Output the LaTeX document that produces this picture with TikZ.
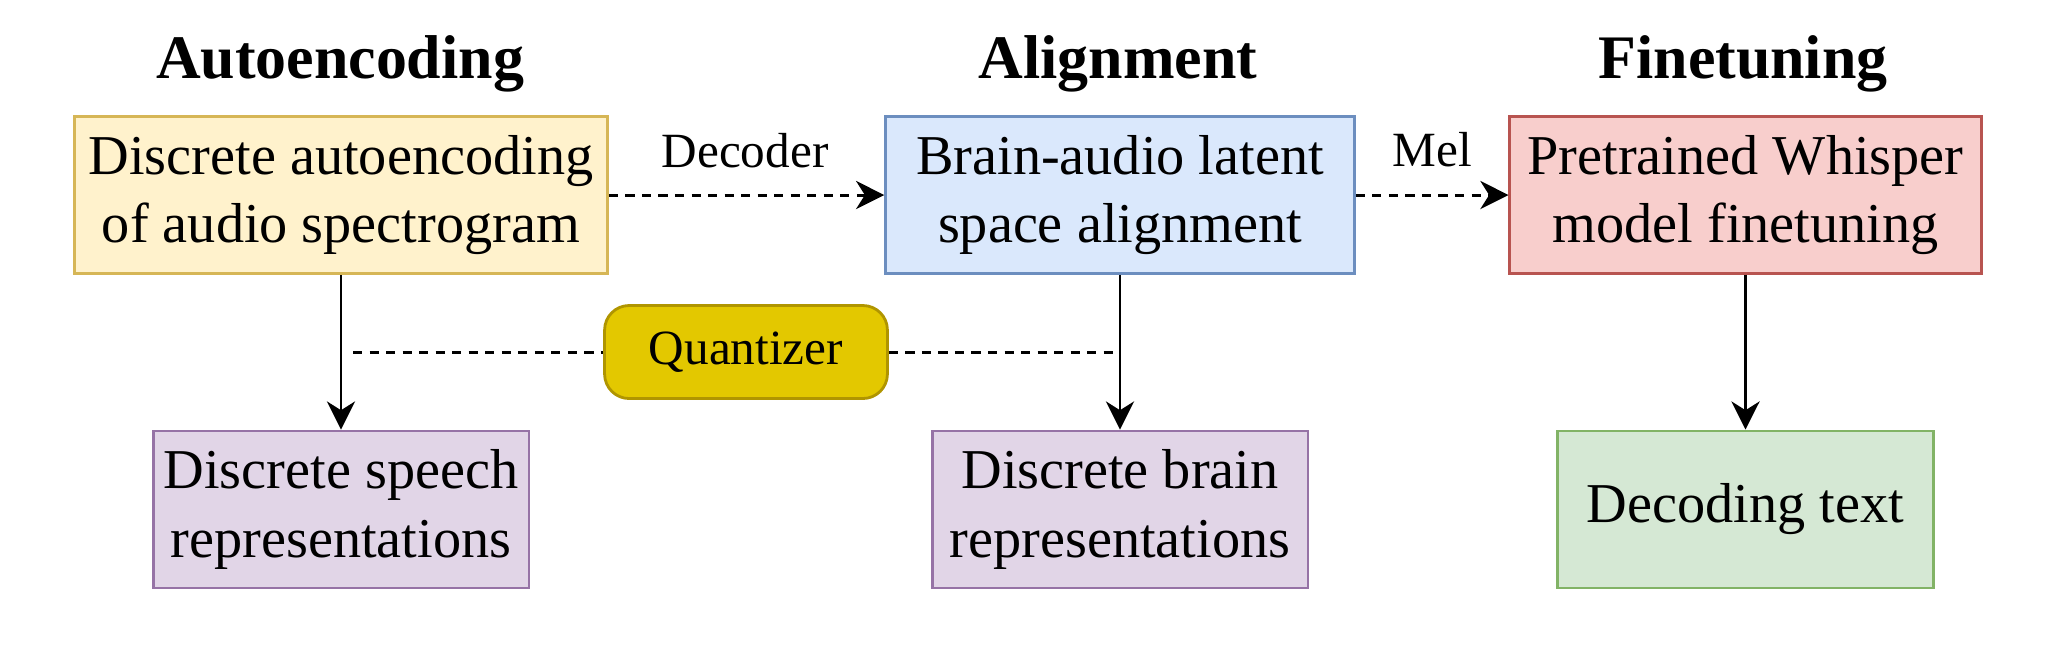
\documentclass[tikz,border=0pt]{standalone}
\usepackage{fontspec}
\setmainfont{Liberation Serif}
\usetikzlibrary{arrows.meta,positioning}
\definecolor{encfill}{HTML}{FFF2CC}\definecolor{encdraw}{HTML}{D6B656}
\definecolor{alifill}{HTML}{DAE8FC}\definecolor{alidraw}{HTML}{6C8EBF}
\definecolor{finfill}{HTML}{F8CECC}\definecolor{findraw}{HTML}{B85450}
\definecolor{repfill}{HTML}{E1D5E7}\definecolor{repdraw}{HTML}{9673A6}
\definecolor{txtfill}{HTML}{D5E8D4}\definecolor{txtdraw}{HTML}{82B366}
\definecolor{quafill}{HTML}{E3C800}\definecolor{quadraw}{HTML}{B09500}
\begin{document}
\begin{tikzpicture}[x=0.01cm,y=-0.01cm]
  \tikzset{
    stage/.style={draw,line width=0.8pt,align=center,inner sep=0pt,
      minimum height=1.57cm,font=\fontsize{16}{19.6}\selectfont},
    result/.style={stage,minimum width=3.756cm},
    title/.style={anchor=base,font=\fontsize{17.6}{20}\selectfont\bfseries},
    edgelabel/.style={anchor=base,font=\fontsize{14}{17}\selectfont},
    flow/.style={line width=0.8pt,-{Stealth[length=8pt,width=8pt,inset=2.5pt]}},
    dashline/.style={line width=0.85pt,dash pattern=on 2.6pt off 2.1pt},
  }
  \useasboundingbox (0,0) rectangle (2052,653);
  % column titles
  \node[title] (tenc) at (340,78) {Autoencoding};
  \node[title] (tali) at (1118,78) {Alignment};
  \node[title] (tfin) at (1743,78) {Finetuning};
  % top row
  \node[stage,fill=encfill,draw=encdraw,minimum width=5.326cm] (enc) at (341,195)
    {Discrete autoencoding\\of audio spectrogram};
  \node[stage,fill=alifill,draw=alidraw,minimum width=4.685cm] (ali) at (1120,195)
    {Brain-audio latent\\space alignment};
  \node[stage,fill=finfill,draw=findraw,minimum width=4.71cm] (fin) at (1745.5,195)
    {Pretrained Whisper\\model finetuning};
  % bottom row
  \node[result,fill=repfill,draw=repdraw,below=1.545cm of enc] (speech)
    {Discrete speech\\representations};
  \node[result,fill=repfill,draw=repdraw,below=1.545cm of ali] (brain)
    {Discrete brain\\representations};
  \node[result,fill=txtfill,draw=txtdraw,below=1.545cm of fin] (text)
    {Decoding text};
  \node[draw=quadraw,fill=quafill,line width=0.8pt,rounded corners=7pt,
    minimum width=2.827cm,minimum height=0.93cm,font=\fontsize{14}{17}\selectfont]
    (quant) at (746,352) {Quantizer};
  \coordinate (qleft) at (353,352);
  % connectors
  \draw[dashline] (qleft) -- (quant.west);
  \draw[dashline] (quant.east) -- (quant.east -| ali.south);
  \draw[flow] (enc) -- (speech);
  \draw[flow] (ali) -- (brain);
  \draw[flow] (fin) -- (text);
  \draw[flow,dashline] (enc) -- (ali);
  \draw[flow,dashline] (ali) -- (fin);
  \node[edgelabel] (ldec) at (745,167) {Decoder};
  \node[edgelabel] (lmel) at (1432,166) {Mel};
\end{tikzpicture}
\end{document}
